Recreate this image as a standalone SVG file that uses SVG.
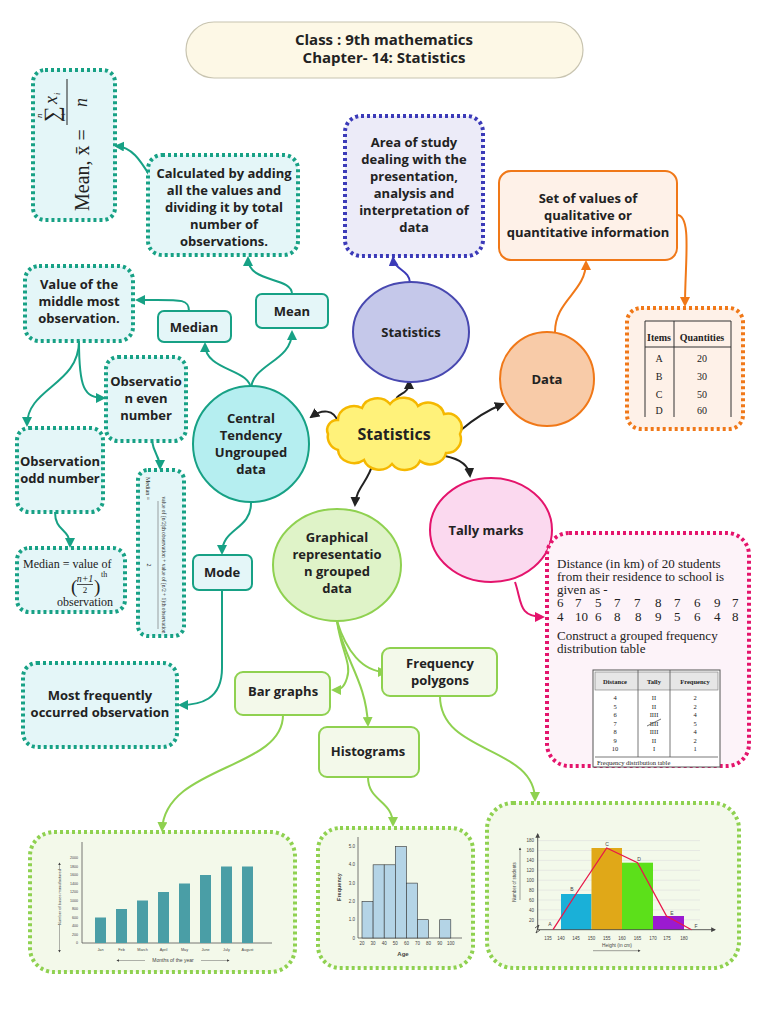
<svg xmlns="http://www.w3.org/2000/svg" width="768" height="1024" viewBox="0 0 768 1024">
<defs>
<style>
.t{font-family:"Open Sans","Liberation Sans",sans-serif;font-weight:700;font-size:13px;fill:#222;text-anchor:middle}
.t15{font-size:15px}
.t16{font-size:16px}
.s{font-family:"Liberation Serif","Times New Roman",serif;fill:#222}
.sm{font-family:"Liberation Sans",Arial,sans-serif;fill:#444}
.dt{fill:#e4f6f8;stroke:#17a185;stroke-width:4;stroke-dasharray:3 3}
.st{fill:#e4f6f8;stroke:#17a185;stroke-width:2}
.db{fill:#ecebf8;stroke:#3b3ab8;stroke-width:4;stroke-dasharray:3 3}
.do{fill:#fef1e8;stroke:#f07818;stroke-width:4;stroke-dasharray:3 3}
.so{fill:#fef1e8;stroke:#f07818;stroke-width:2}
.dp{fill:#fdf3f9;stroke:#e4146c;stroke-width:4;stroke-dasharray:3 3}
.dg{fill:#f3f9ea;stroke:#8fd150;stroke-width:4;stroke-dasharray:3 3}
.sg{fill:#f3f9ea;stroke:#8fd150;stroke-width:2}
.ct{fill:none;stroke:#17a185;stroke-width:2;marker-end:url(#mt)}
.ck{fill:none;stroke:#222;stroke-width:2;marker-end:url(#mk)}
.cb{fill:none;stroke:#3b3ab8;stroke-width:2;marker-end:url(#mb)}
.co{fill:none;stroke:#f07818;stroke-width:2;marker-end:url(#mo)}
.cp{fill:none;stroke:#e4146c;stroke-width:2;marker-end:url(#mp)}
.cg{fill:none;stroke:#8fd150;stroke-width:2;marker-end:url(#mg)}
.ax{stroke:#555;stroke-width:0.8;fill:none}
</style>
<marker id="mt" viewBox="0 0 10 10" refX="8" refY="5" markerWidth="5" markerHeight="5" orient="auto"><path d="M0,0 L10,5 L0,10 z" fill="#17a185"/></marker>
<marker id="mk" viewBox="0 0 10 10" refX="8" refY="5" markerWidth="5" markerHeight="5" orient="auto"><path d="M0,0 L10,5 L0,10 z" fill="#222"/></marker>
<marker id="mb" viewBox="0 0 10 10" refX="8" refY="5" markerWidth="5" markerHeight="5" orient="auto"><path d="M0,0 L10,5 L0,10 z" fill="#3b3ab8"/></marker>
<marker id="mo" viewBox="0 0 10 10" refX="8" refY="5" markerWidth="5" markerHeight="5" orient="auto"><path d="M0,0 L10,5 L0,10 z" fill="#f07818"/></marker>
<marker id="mp" viewBox="0 0 10 10" refX="8" refY="5" markerWidth="5" markerHeight="5" orient="auto"><path d="M0,0 L10,5 L0,10 z" fill="#e4146c"/></marker>
<marker id="mg" viewBox="0 0 10 10" refX="8" refY="5" markerWidth="5" markerHeight="5" orient="auto"><path d="M0,0 L10,5 L0,10 z" fill="#8fd150"/></marker>
<marker id="ms" viewBox="0 0 10 10" refX="8" refY="5" markerWidth="6" markerHeight="6" orient="auto"><path d="M0,0 L10,5 L0,10 z" fill="#444"/></marker>
</defs>
<rect width="768" height="1024" fill="#fff"/>

<g id="connectors">
<path class="ct" d="M150 176 C140 160 132 147 116 146"/>
<path class="ct" d="M292 294 C292 276 248 284 248 258"/>
<path class="ct" d="M189 311 C189 298 180 300 137 300"/>
<path class="ct" d="M79 341 C79 385 27 388 27 425"/>
<path class="ct" d="M79 341 C79 388 84 398 104 398"/>
<path class="ct" d="M55 512 C55 532 70 528 70 546"/>
<path class="ct" d="M152 441 C154 455 160 456 160 468"/>
<path class="ct" d="M251 390 C251 368 205 372 205 344"/>
<path class="ct" d="M251 390 C251 364 292 362 292 332"/>
<path class="ct" d="M251 503 C251 530 222 528 222 553"/>
<path class="ct" d="M222 590 L222 668 C222 700 200 705 180 705"/>
<path class="ck" d="M338 422 C334 409 322 409 311 417"/>
<path class="ck" d="M395 405 C395 390 409 398 409 381"/>
<path class="ck" d="M461 430 C475 418 488 410 503 404"/>
<path class="ck" d="M445 456 C460 459 469 466 470 476"/>
<path class="ck" d="M373 463 C368 482 356 488 355 505"/>
<path class="cb" d="M410 283 C410 270 394 270 393 258"/>
<path class="co" d="M555 332 C555 300 586 292 586 262"/>
<path class="co" d="M677 215 C692 215 685 262 685 305"/>
<path class="cp" d="M515 582 C522 602 518 617 543 617"/>
<path class="cg" d="M337 621 C341 650 352 664 347 678 C344 688 340 690 333 690"/>
<path class="cg" d="M337 621 C344 660 366 680 368 725"/>
<path class="cg" d="M337 621 C346 650 362 672 386 672"/>
<path class="cg" d="M283 715 C283 770 165 765 162 830"/>
<path class="cg" d="M368 777 C368 802 393 800 393 825"/>
<path class="cg" d="M440 696 C440 755 535 745 535 800"/>
</g>

<g id="title">
<rect x="186" y="22" width="397" height="56" rx="28" fill="#fdf8e6" stroke="#c8c4b0" stroke-width="1.2"/>
<text class="t t15" x="384" y="45">Class : 9th mathematics</text>
<text class="t t15" x="384" y="63">Chapter- 14: Statistics</text>
</g>

<g id="mean-formula">
<rect class="dt" x="33" y="70" width="82" height="150" rx="12"/>
<g transform="translate(75,145) rotate(-90)">
<text class="s" x="-66" y="14" font-size="20">Mean, x̄ =</text>
<line x1="20" y1="-8" x2="66" y2="-8" stroke="#222" stroke-width="1"/>
<text class="s" x="23" y="-16" font-size="22">∑</text>
<text class="s" x="27" y="-33" font-size="9" font-style="italic">n</text>
<text class="s" x="24" y="-10" font-size="6">i=1</text>
<text class="s" x="41" y="-18" font-size="18" font-style="italic">x</text>
<text class="s" x="50" y="-15" font-size="8" font-style="italic">i</text>
<text class="s" x="38" y="12" font-size="18" font-style="italic">n</text>
</g>
</g>

<g id="calculated">
<rect class="dt" x="148" y="155" width="150" height="100" rx="14"/>
<text class="t" x="224" y="178">Calculated by adding</text>
<text class="t" x="224" y="195">all the values and</text>
<text class="t" x="224" y="212">dividing it by total</text>
<text class="t" x="224" y="229">number of</text>
<text class="t" x="224" y="246">observations.</text>
</g>

<g id="mean">
<rect class="st" x="256" y="294" width="72" height="34" rx="6"/>
<text class="t" x="292" y="316">Mean</text>
</g>

<g id="median">
<rect class="st" x="158" y="311" width="73" height="31" rx="6"/>
<text class="t" x="194" y="332">Median</text>
</g>

<g id="middle-value">
<rect class="dt" x="25" y="266" width="108" height="75" rx="14"/>
<text class="t" x="79" y="289">Value of the</text>
<text class="t" x="79" y="306">middle most</text>
<text class="t" x="79" y="323">observation.</text>
</g>

<g id="even">
<rect class="dt" x="106" y="357" width="80" height="84" rx="12"/>
<text class="t" x="146" y="386">Observatio</text>
<text class="t" x="146" y="403">n even</text>
<text class="t" x="146" y="420">number</text>
</g>

<g id="odd">
<rect class="dt" x="17" y="428" width="86" height="84" rx="12"/>
<text class="t" x="60" y="466">Observation</text>
<text class="t" x="60" y="483">odd number</text>
</g>

<g id="median-even-formula">
<rect class="dt" x="138" y="470" width="46" height="166" rx="10"/>
<g transform="translate(157,553) rotate(90)">
<text class="s" x="-76" y="11" font-size="6">Median =</text>
<line x1="-52" y1="-1" x2="76" y2="-1" stroke="#666" stroke-width="0.6"/>
<text class="s" x="12" y="-5" font-size="5.5" text-anchor="middle">value of (n/2)th observation + value of (n/2 + 1)th observation</text>
<text class="s" x="12" y="10" font-size="6" text-anchor="middle">2</text>
</g>
</g>

<g id="median-odd-formula">
<rect class="dt" x="17" y="548" width="108" height="64" rx="12"/>
<text class="s" x="23" y="568" font-size="12">Median = value of</text>
<text class="s" x="71" y="593" font-size="19">(</text>
<text class="s" x="85" y="582" font-size="10" font-style="italic" text-anchor="middle">n+1</text>
<line x1="77" y1="584.5" x2="93" y2="584.5" stroke="#222" stroke-width="0.8"/>
<text class="s" x="85" y="593" font-size="9" text-anchor="middle">2</text>
<text class="s" x="94" y="593" font-size="19">)</text>
<text class="s" x="101" y="577" font-size="8">th</text>
<text class="s" x="57" y="606" font-size="12">observation</text>
</g>

<g id="central">
<circle cx="251" cy="444" r="58" fill="#b5eef0" stroke="#17a185" stroke-width="2"/>
<text class="t" x="251" y="423">Central</text>
<text class="t" x="251" y="440">Tendency</text>
<text class="t" x="251" y="457">Ungrouped</text>
<text class="t" x="251" y="474">data</text>
</g>

<g id="mode">
<rect class="st" x="193" y="555" width="59" height="35" rx="6"/>
<text class="t" x="222" y="577">Mode</text>
</g>

<g id="most-frequent">
<rect class="dt" x="23" y="663" width="154" height="84" rx="14"/>
<text class="t" x="100" y="700">Most frequently</text>
<text class="t" x="100" y="717">occurred observation</text>
</g>

<g id="statistics-center">
<path d="M338 420 A16 14 0 0 1 362 408 A16 14 0 0 1 390 404 A16 14 0 0 1 418 406 A16 14 0 0 1 444 414 A14 14 0 0 1 460 434 A14 14 0 0 1 446 453 A16 14 0 0 1 420 461 A16 14 0 0 1 392 464 A16 14 0 0 1 364 460 A16 14 0 0 1 338 450 A14 14 0 0 1 328 434 A10 10 0 0 1 338 420 Z" fill="#fff27a" stroke="#f5b800" stroke-width="2.5"/>
<text class="t t16" x="394" y="440">Statistics</text>
</g>

<g id="statistics">
<ellipse cx="411" cy="332" rx="58" ry="50" fill="#c5c8ea" stroke="#4848b0" stroke-width="2"/>
<text class="t" x="411" y="337">Statistics</text>
</g>

<g id="area">
<rect class="db" x="345" y="116" width="138" height="140" rx="16"/>
<text class="t" x="414" y="147">Area of study</text>
<text class="t" x="414" y="164">dealing with the</text>
<text class="t" x="414" y="181">presentation,</text>
<text class="t" x="414" y="198">analysis and</text>
<text class="t" x="414" y="215">interpretation of</text>
<text class="t" x="414" y="232">data</text>
</g>

<g id="data">
<circle cx="547" cy="379" r="47" fill="#f8cba8" stroke="#f07818" stroke-width="2"/>
<text class="t" x="547" y="384">Data</text>
</g>

<g id="set-of-values">
<rect class="so" x="499" y="171" width="178" height="89" rx="12"/>
<text class="t" x="588" y="203">Set of values of</text>
<text class="t" x="588" y="220">qualitative or</text>
<text class="t" x="588" y="237">quantitative information</text>
</g>

<g id="items-table">
<rect class="do" x="627" y="308" width="116" height="121" rx="14"/>
<path d="M645 417 V321 H731 V417 M645 347 H731 M674 321 V417" fill="none" stroke="#333" stroke-width="1"/>
<text class="s" x="659" y="341" font-size="10" font-weight="700" text-anchor="middle">Items</text>
<text class="s" x="702" y="341" font-size="10" font-weight="700" text-anchor="middle">Quantities</text>
<text class="s" x="659" y="362" font-size="10" text-anchor="middle">A</text>
<text class="s" x="702" y="362" font-size="10" text-anchor="middle">20</text>
<text class="s" x="659" y="380" font-size="10" text-anchor="middle">B</text>
<text class="s" x="702" y="380" font-size="10" text-anchor="middle">30</text>
<text class="s" x="659" y="398" font-size="10" text-anchor="middle">C</text>
<text class="s" x="702" y="398" font-size="10" text-anchor="middle">50</text>
<text class="s" x="659" y="414" font-size="10" text-anchor="middle">D</text>
<text class="s" x="702" y="414" font-size="10" text-anchor="middle">60</text>
</g>

<g id="tally">
<ellipse cx="491" cy="530" rx="61" ry="52" fill="#fbd9ef" stroke="#e4146c" stroke-width="2"/>
<text class="t" x="486" y="535">Tally marks</text>
</g>

<g id="tally-box">
<rect class="dp" x="547" y="533" width="202" height="233" rx="22"/>
<g class="s" font-size="13">
<text x="557" y="568">Distance (in km) of 20 students</text>
<text x="557" y="581">from their residence to school is</text>
<text x="557" y="594">given as -</text>
<text x="557" y="607">6</text><text x="575" y="607">7</text><text x="595" y="607">5</text><text x="614" y="607">7</text><text x="634" y="607">7</text><text x="655" y="607">8</text><text x="674" y="607">7</text><text x="694" y="607">6</text><text x="714" y="607">9</text><text x="732" y="607">7</text>
<text x="557" y="621">4</text><text x="575" y="621">10</text><text x="595" y="621">6</text><text x="614" y="621">8</text><text x="635" y="621">8</text><text x="655" y="621">9</text><text x="674" y="621">5</text><text x="694" y="621">6</text><text x="714" y="621">4</text><text x="732" y="621">8</text>
<text x="557" y="640">Construct a grouped frequency</text>
<text x="557" y="653">distribution table</text>
</g>
<rect x="593" y="670" width="127" height="97" fill="#fff" stroke="#555" stroke-width="1"/>
<rect x="595" y="672" width="123" height="18" fill="#e6e6e6" stroke="#777" stroke-width="0.6"/>
<path d="M595 757 H718 M638 670 V757 M670 670 V757" stroke="#555" stroke-width="0.8" fill="none"/>
<g class="s" font-size="6.5" text-anchor="middle">
<text x="615" y="684" font-weight="700">Distance</text>
<text x="654" y="684" font-weight="700">Tally</text>
<text x="695" y="684" font-weight="700">Frequency</text>
<text x="615" y="700">4</text><text x="695" y="700">2</text>
<text x="615" y="708.5">5</text><text x="695" y="708.5">2</text>
<text x="615" y="717">6</text><text x="695" y="717">4</text>
<text x="615" y="725.5">7</text><text x="695" y="725.5">5</text>
<text x="615" y="734">8</text><text x="695" y="734">4</text>
<text x="615" y="742.5">9</text><text x="695" y="742.5">2</text>
<text x="615" y="751">10</text><text x="695" y="751">1</text>
</g>
<g class="s" font-size="6.5" text-anchor="middle">
<text x="654" y="700">II</text>
<text x="654" y="708.5">II</text>
<text x="654" y="717">IIII</text>
<text x="654" y="725.5">IIII</text>
<text x="654" y="734">IIII</text>
<text x="654" y="742.5">II</text>
<text x="654" y="751">I</text>
</g>
<line x1="647" y1="726" x2="661" y2="719" stroke="#333" stroke-width="0.7"/>
<text class="s" x="597" y="765" font-size="6.5">Frequency distribution table</text>
</g>

<g id="graphical">
<ellipse cx="337" cy="565" rx="64" ry="56" fill="#dff3c8" stroke="#8fd150" stroke-width="2"/>
<text class="t" x="337" y="542">Graphical</text>
<text class="t" x="337" y="559">representatio</text>
<text class="t" x="337" y="576">n grouped</text>
<text class="t" x="337" y="593">data</text>
</g>

<g id="bar-graphs">
<rect class="sg" x="235" y="672" width="95" height="43" rx="8"/>
<text class="t" x="283" y="696">Bar graphs</text>
</g>

<g id="histograms">
<rect class="sg" x="319" y="727" width="100" height="50" rx="8"/>
<text class="t" x="368" y="756">Histograms</text>
</g>

<g id="frequency-polygons">
<rect class="sg" x="382" y="648" width="115" height="48" rx="8"/>
<text class="t" x="440" y="668">Frequency</text>
<text class="t" x="440" y="685">polygons</text>
</g>

<g id="bar-chart">
<rect class="dg" x="30" y="832" width="265" height="140" rx="24"/>
<path class="ax" d="M82 842 V943 H272"/>
<g fill="#4a9ea6">
<rect x="95" y="917.5" width="11" height="25.5"/>
<rect x="116" y="909" width="11" height="34"/>
<rect x="137" y="900.5" width="11" height="42.5"/>
<rect x="158" y="892" width="11" height="51"/>
<rect x="179" y="883.5" width="11" height="59.5"/>
<rect x="200" y="875" width="11" height="68"/>
<rect x="221" y="866.5" width="11" height="76.5"/>
<rect x="242" y="866.5" width="11" height="76.5"/>
</g>
<g class="sm" font-size="3.6" text-anchor="end">
<text x="78" y="944">0</text><text x="78" y="935.5">200</text><text x="78" y="927">400</text><text x="78" y="918.5">600</text><text x="78" y="910">800</text><text x="78" y="901.5">1000</text><text x="78" y="893">1200</text><text x="78" y="884.5">1400</text><text x="78" y="876">1600</text><text x="78" y="867.5">1800</text><text x="78" y="859">2000</text>
</g>
<g class="sm" font-size="3.8" text-anchor="middle">
<text x="100.5" y="951">Jan</text><text x="121.5" y="951">Feb</text><text x="142.5" y="951">March</text><text x="163.5" y="951">April</text><text x="184.5" y="951">May</text><text x="205.5" y="951">June</text><text x="226.5" y="951">July</text><text x="247.5" y="951">August</text>
</g>
<text class="sm" x="173" y="962" font-size="5" text-anchor="middle">Months of the year</text>
<line x1="145" y1="960.5" x2="117" y2="960.5" stroke="#666" stroke-width="0.5" marker-end="url(#ms)"/>
<line x1="201" y1="960.5" x2="229" y2="960.5" stroke="#666" stroke-width="0.5" marker-end="url(#ms)"/>
<text class="sm" transform="translate(61,897) rotate(-90)" font-size="4" text-anchor="middle">Number of buses manufactured</text>
<line x1="59.5" y1="925" x2="59.5" y2="952" stroke="#666" stroke-width="0.5" marker-end="url(#ms)"/>
<line x1="59.5" y1="869" x2="59.5" y2="863" stroke="#666" stroke-width="0.5" marker-end="url(#ms)"/>
</g>

<g id="histogram-chart">
<rect class="dg" x="318" y="828" width="155" height="140" rx="22"/>
<path class="ax" d="M358 837 V938 H462"/>
<g fill="#b4d4e6" stroke="#333" stroke-width="0.6">
<rect x="362" y="901.4" width="11.1" height="36.6"/>
<rect x="373.1" y="864.8" width="11.1" height="73.2"/>
<rect x="384.2" y="864.8" width="11.1" height="73.2"/>
<rect x="395.3" y="846.5" width="11.1" height="91.5"/>
<rect x="406.4" y="883.1" width="11.1" height="54.9"/>
<rect x="417.5" y="919.7" width="11.1" height="18.3"/>
<rect x="439.7" y="919.7" width="11.1" height="18.3"/>
</g>
<g class="sm" font-size="4.5" text-anchor="end">
<text x="355" y="939.5">0</text><text x="355" y="921">1.0</text><text x="355" y="902.5">2.0</text><text x="355" y="884.5">3.0</text><text x="355" y="866">4.0</text><text x="355" y="848">5.0</text>
</g>
<g class="sm" font-size="4.5" text-anchor="middle">
<text x="362" y="944.5">20</text><text x="373.1" y="944.5">30</text><text x="384.2" y="944.5">40</text><text x="395.3" y="944.5">50</text><text x="406.4" y="944.5">60</text><text x="417.5" y="944.5">70</text><text x="428.6" y="944.5">80</text><text x="439.7" y="944.5">90</text><text x="450.8" y="944.5">100</text>
</g>
<text class="sm" x="403" y="956" font-size="6" font-weight="700" text-anchor="middle">Age</text>
<text class="sm" transform="translate(341,887) rotate(-90)" font-size="5.5" font-weight="700" text-anchor="middle">Frequency</text>
</g>

<g id="polygon-chart">
<rect class="dg" x="487" y="803" width="252" height="165" rx="26"/>
<g stroke="#ddd" stroke-width="0.6">
<line x1="538" y1="840.6" x2="700" y2="840.6"/><line x1="538" y1="850.5" x2="700" y2="850.5"/><line x1="538" y1="860.4" x2="700" y2="860.4"/><line x1="538" y1="870.3" x2="700" y2="870.3"/><line x1="538" y1="880.2" x2="700" y2="880.2"/><line x1="538" y1="890.1" x2="700" y2="890.1"/><line x1="538" y1="900" x2="700" y2="900"/><line x1="538" y1="909.9" x2="700" y2="909.9"/><line x1="538" y1="919.8" x2="700" y2="919.8"/>
</g>
<rect x="561" y="894" width="30.5" height="35.7" fill="#1ab0d8"/>
<rect x="591.5" y="848" width="30.5" height="81.7" fill="#e0a818"/>
<rect x="622" y="862.7" width="31" height="67" fill="#5ce01a"/>
<rect x="653" y="916" width="31" height="13.7" fill="#9b1ad0"/>
<line x1="537.7" y1="929.7" x2="537.7" y2="834" stroke="#333" stroke-width="0.8" marker-end="url(#ms)"/>
<line x1="537.7" y1="929.7" x2="715" y2="929.7" stroke="#333" stroke-width="0.8" marker-end="url(#ms)"/>
<polyline points="553,929.7 576,894 606.7,848 637.5,862.7 666.5,916 691.5,929.7" fill="none" stroke="#e8184a" stroke-width="1.3"/>
<g class="sm" font-size="4.5" text-anchor="end">
<text x="534" y="842">180</text><text x="534" y="852">160</text><text x="534" y="862">140</text><text x="534" y="872">120</text><text x="534" y="882">100</text><text x="534" y="892">80</text><text x="534" y="901.5">60</text><text x="534" y="911.5">40</text><text x="534" y="921.5">20</text>
</g>
<g class="sm" font-size="4.5" text-anchor="middle">
<text x="548" y="940">135</text><text x="561" y="940">140</text><text x="576" y="940">145</text><text x="591.5" y="940">150</text><text x="606.7" y="940">155</text><text x="622" y="940">160</text><text x="637.5" y="940">165</text><text x="653" y="940">170</text><text x="667" y="940">175</text><text x="684" y="940">180</text>
</g>
<g class="sm" font-size="5" text-anchor="middle">
<text x="550" y="926">A</text><text x="572" y="891">B</text><text x="607" y="846">C</text><text x="639" y="861">D</text><text x="672" y="915">E</text><text x="696" y="928">F</text>
</g>
<text class="sm" x="617" y="947" font-size="4.8" text-anchor="middle">Height (in cm)</text>
<line x1="593" y1="950.7" x2="640" y2="950.7" stroke="#444" stroke-width="0.5" marker-end="url(#ms)"/>
<text class="sm" transform="translate(516,882) rotate(-90)" font-size="4.5" text-anchor="middle">Number of students</text>
<line x1="520" y1="900" x2="520" y2="848" stroke="#444" stroke-width="0.5" marker-end="url(#ms)"/>
<path d="M535 928 L539 925 L536 933 L540 930" fill="none" stroke="#333" stroke-width="0.8"/>
</g>
</svg>
